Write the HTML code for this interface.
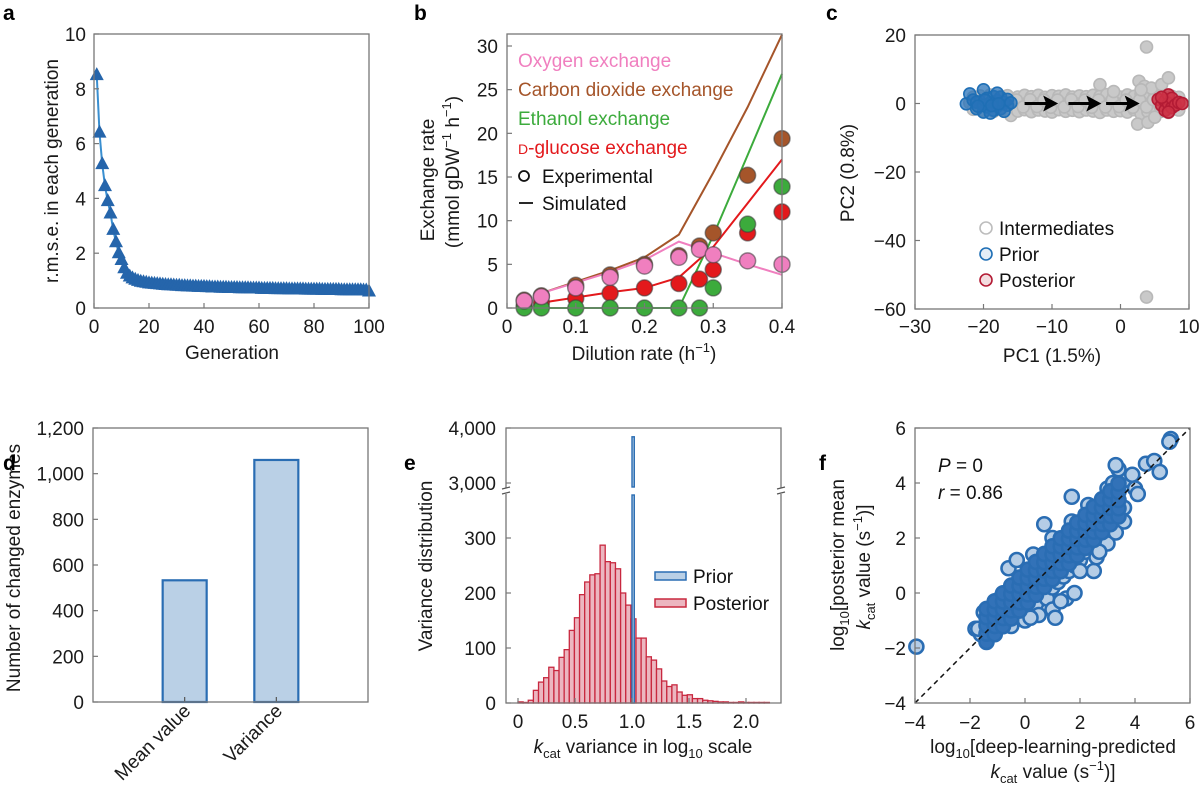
<!DOCTYPE html>
<html><head><meta charset="utf-8"><style>
body{margin:0;background:#fff}
svg{display:block;font-family:"Liberation Sans",Arial,sans-serif}
</style></head><body>
<svg id="fig" width="1200" height="791" viewBox="0 0 1200 791" xmlns="http://www.w3.org/2000/svg">
<g id="root"></g>
</svg>
<script>
// ---------- Panel a data ----------
const aRmse = [8.5,6.4,5.25,4.45,3.9,3.45,2.85,2.4,2.0,1.75,1.45,1.25,1.15,1.08,1.03,0.99,0.96,0.94,0.92,0.9,
0.89,0.88,0.87,0.86,0.85,0.84,0.83,0.83,0.82,0.81,0.81,0.8,0.8,0.79,0.79,0.78,0.78,0.77,0.77,0.77,
0.76,0.76,0.75,0.75,0.75,0.74,0.74,0.74,0.73,0.73,0.73,0.73,0.72,0.72,0.72,0.72,0.71,0.71,0.71,0.71,
0.70,0.70,0.70,0.70,0.70,0.69,0.69,0.69,0.69,0.69,0.68,0.68,0.68,0.68,0.68,0.68,0.67,0.67,0.67,0.67,
0.67,0.67,0.66,0.66,0.66,0.66,0.66,0.66,0.66,0.65,0.65,0.65,0.65,0.65,0.65,0.65,0.65,0.64,0.64,0.6];
const aXTicks = [0,20,40,60,80,100];
const aYTicks = [0,2,4,6,8,10];
// ---------- Panel b data ----------
const bExpX = [0.025,0.05,0.1,0.15,0.2,0.25,0.28,0.3,0.35,0.4];
const bExpCO2 = [0.9,1.4,2.6,3.8,5.0,6.0,7.1,8.6,15.2,19.4];
const bExpRed = [0.3,0.6,1.1,1.7,2.3,2.8,3.3,4.4,8.6,11.0];
const bExpEth = [0,0,0,0,0,0,0,2.3,9.6,13.9];
const bExpO2 = [0.8,1.3,2.3,3.5,4.8,5.8,6.7,6.1,5.4,5.0];
const bSimX = [0.05,0.1,0.15,0.2,0.25,0.3,0.35,0.4];
const bSimCO2 = [1.7,3.0,4.3,5.8,8.4,15.5,23.0,31.3];
const bSimO2 = [1.7,2.9,4.1,5.5,7.6,6.3,5.0,3.8];
const bSimEth = [0,0,0,0,0,8.3,17.5,26.8];
const bSimGlc = [0.6,1.2,1.8,2.3,3.5,7.0,12.0,17.0];
const bXTicks = [0,0.1,0.2,0.3,0.4];
const bXLabels = ["0","0.1","0.2","0.3","0.4"];
const bYTicks = [0,5,10,15,20,25,30];
// ---------- Panel c data ----------
const cGray = [-21.5,1.8,-20.5,2.2,-19,2.5,-17.5,2,-16.5,2.3,-15,1.9,-14,2.4,-13,2.0,-12,2.4,-11,1.8,-10,2.3,-9,2.1,-8,2.5,-7,1.9,-6,2.2,-5,2.0,-4,2.4,-3,2.1,-2,2.6,-1,2.2,0,1.9,1,2.5,2,2.1,3,2.8,4,2.3,5,2.0,6,2.4,7.5,2.1,8.5,1.8,
-22,0.2,-21,-0.3,-20,0.4,-18.5,-0.2,-17,0.3,-16,-0.4,-15.5,0.1,-14.5,-0.2,-13.5,0.3,-12.5,-0.1,-11.5,0.2,-10.5,-0.3,-9.5,0.1,-8.5,-0.2,-7.5,0.3,-6.5,-0.1,-5.5,0.2,-4.5,-0.3,-3.5,0.1,-2.5,-0.2,-1.5,0.3,-0.5,-0.1,0.5,0.2,1.5,-0.3,2.5,0.1,3.5,-0.2,4.5,0.3,5.5,-0.1,6.5,0.2,8,-0.2,9,0.1,
-21.5,-1.7,-20,-2.1,-18.5,-2.3,-17,-1.9,-16,-3.5,-15,-2.2,-14,-1.8,-13,-2.4,-12,-1.9,-11,-2.2,-10,-2.5,-9,-1.8,-8,-2.3,-7,-2.0,-6,-2.4,-5,-1.9,-4,-2.2,-3,-2.6,-2,-1.9,-1,-2.3,0,-2.1,1,-2.5,2,-1.8,3,-3.0,4,-2.4,5,-2.0,6,-2.3,7,-2.6,8.5,-1.9,
-15.2,1.0,-14.2,-1.0,-13.2,1.1,-12.2,-0.9,-11.2,1.0,-10.2,-1.1,-9.2,1.0,-8.2,-1.0,-7.2,1.1,-6.2,-0.9,-5.2,1.0,-4.2,-1.1,-3.2,1.0,-2.2,-1.0,-1.2,1.1,-0.2,-0.9,0.8,1.0,1.8,-1.1,2.8,1.0,3.8,-1.0,4.8,1.1,5.8,-0.9,
3.8,16.5,3.8,-56.5,-3,5.5,2.7,6.5,3.5,5.0,4.5,4.5,6,5.5,7,7.5,2.5,-6,4,-5.5,-1,3.5,3.0,4.0,5.0,-4.0];
const cPrior = [-22.5,-0.1,-22,2.8,-21.5,1.0,-21,-1.5,-20.5,0.5,-20,4.0,-20,-2.5,-19.5,1.5,-19.5,-1.0,-19,0.2,-18.5,2.0,-18.5,-2.0,-18,0.8,-18,-0.8,-17.5,1.8,-17.5,-1.5,-17,0.3,-16.5,-0.5,-16.5,1.2,-16,0.2,-21,0.4,-20,-0.5,-19,-2.8,-18,3.0,-17,-2.3,-19.8,1.0,-18.8,-0.6,-17.8,-0.1,-20.8,-0.8];
const cPost = [5.5,1.2,6,-0.5,6.5,0.8,6.5,-2,7,2.5,7,0,7.5,-1.2,7.5,1.5,8,-0.5,8.5,0.3,9,0,6,1.8,7,-2.5];
const cArrows = [-14,-9.1,-7.6,-2.8,-2.1,2.8];
const cXTicks = [-30,-20,-10,0,10];
const cYTicks = [-60,-40,-20,0,20];
// ---------- Panel d data ----------
const dCats = ["Mean value","Variance"];
const dVals = [533,1060];
const dYTicks = [0,200,400,600,800,1000,1200];
const dYLabels = ["0","200","400","600","800","1,000","1,200"];
// ---------- Panel e data ----------
const eBinStart = 0.0;
const eBinW = 0.045;
const ePosterior = [2,1,5,23,38,46,65,59,83,97,132,155,197,220,233,235,287,257,255,244,200,178,153,118,118,84,78,62,40,30,33,20,14,15,8,8,5,4,3,2,2,1,1,2,1,1,1,1,1];
const ePriorX = [1.0];
const ePriorVal = [3840];
const eXTicks = [0,0.5,1.0,1.5,2.0];
const eXLabels = ["0","0.5","1.0","1.5","2.0"];
const eYTicksLow = [0,100,200,300];
const eYTicksHigh = [3000,4000];
const eYLabelsHigh = ["3,000","4,000"];
// ---------- Panel f data ----------
const fPts = [-1.8,-1.3,-1.6,-1.5,-1.4,-1.2,-1.2,-0.9,-1.3,-1.4,-1.0,-1.1,-1.0,-0.6,-0.8,-0.9,-0.8,-0.4,-0.6,-0.7,-0.6,-0.2,-0.4,-0.5,-0.4,0.0,-0.2,-0.3,-0.2,0.3,0,-0.6,0,0.1,0,0.6,0.2,-0.2,0.2,0.4,0.4,-0.4,0.4,0.2,0.4,0.8,0.6,0.0,0.6,0.6,0.6,1.1,0.8,-0.2,0.8,0.4,0.8,0.9,1.0,0.2,1.0,0.7,1.0,1.3,1.2,0.4,1.2,1.0,1.2,1.6,1.4,0.6,1.4,1.2,1.4,1.8,1.6,0.8,1.6,1.4,1.6,2.0,1.8,1.0,1.8,1.6,1.8,2.2,2.0,1.2,2.0,1.8,2.0,2.5,2.2,1.5,2.2,2.1,2.2,2.7,2.4,1.7,2.4,2.3,2.6,1.9,2.6,2.6,2.8,2.2,2.8,2.9,3.0,2.4,3.0,3.1,3.2,2.6,3.2,3.6,3.4,2.9,3.4,3.3,3.6,3.1,3.6,2.6,3.0,3.8,3.2,4.0,3.6,4.1,3.9,4.3,4.0,3.8,4.1,3.6,3.4,4.5,3.3,4.65,4.4,4.7,4.7,4.8,4.9,4.4,5.3,5.6,5.25,5.5,-3.95,-1.95,-1.5,-0.7,-1.7,-1.3,1.7,3.5,0.7,2.5,-0.6,0.9,1.0,-0.6,0.5,-0.8,1.5,-0.2,2.5,0.8,1.7,2.6,2.6,1.3,3.0,1.8,2.0,0.8,1.0,2.0,0.3,1.4,-0.3,1.2,2.3,3.2,0.0,-1.0,-0.5,-1.2,1.1,-0.9,1.8,0.0,0.2,-0.9,-0.9,-0.2,1.3,-0.3,2.7,1.5,3.3,2.2];
const fCore = [-1.4,-1.78,-1.4,-1.48,-1.4,-1.18,-1.4,-0.88,-1.4,-0.58,
-1.1,-1.5,-1.1,-1.2,-1.1,-0.9,-1.1,-0.6,-1.1,-0.3,
-0.8,-1.21,-0.8,-0.91,-0.8,-0.61,-0.8,-0.31,-0.8,-0.01,
-0.5,-0.93,-0.5,-0.63,-0.5,-0.33,-0.5,-0.03,-0.5,0.27,
-0.2,-0.64,-0.2,-0.34,-0.2,-0.04,-0.2,0.26,-0.2,0.56,
0.1,-0.35,0.1,-0.05,0.1,0.25,0.1,0.55,0.1,0.85,
0.4,-0.07,0.4,0.23,0.4,0.53,0.4,0.83,0.4,1.13,
0.7,0.22,0.7,0.52,0.7,0.82,0.7,1.12,0.7,1.42,
1.0,0.5,1.0,0.8,1.0,1.1,1.0,1.4,1.0,1.7,
1.3,0.79,1.3,1.09,1.3,1.39,1.3,1.69,1.3,1.99,
1.6,1.07,1.6,1.37,1.6,1.67,1.6,1.97,1.6,2.27,
1.9,1.36,1.9,1.66,1.9,1.96,1.9,2.26,1.9,2.56,
2.2,1.64,2.2,1.94,2.2,2.24,2.2,2.54,2.2,2.84,
2.5,1.93,2.5,2.23,2.5,2.53,2.5,2.83,2.5,3.13,
2.8,2.21,2.8,2.51,2.8,2.81,2.8,3.11,2.8,3.41,
3.1,2.5,3.1,2.8,3.1,3.1,3.1,3.4,3.1,3.7,
3.4,2.78,3.4,3.08,3.4,3.38,3.4,3.68,3.4,3.98];
const fTicks = [-4,-2,0,2,4,6];
const fTickLabels = ["\u22124","\u22122","0","2","4","6"];

// ---------- helpers ----------
const NS = "http://www.w3.org/2000/svg";
const root = document.getElementById('root');
function el(tag, attrs, parent, txt){
  const e = document.createElementNS(NS, tag);
  for (const k in attrs) e.setAttribute(k, attrs[k]);
  if (txt !== undefined) e.textContent = txt;
  (parent || root).appendChild(e);
  return e;
}
function lin(d0,d1,r0,r1){ return v => r0 + (v-d0)/(d1-d0)*(r1-r0); }
function box(g,x0,y0,x1,y1){
  const r = el('rect',{x:x0,y:y0,width:x1-x0,height:y1-y0,fill:'none',stroke:'#777','stroke-width':1.3},g);
  
  
}
function xTicks(g,ticks,labels,sx,yb,ly){
  ticks.forEach((t,i)=>{
    const l = el('line',{x1:sx(t),x2:sx(t),y1:yb,y2:yb-5,stroke:'#777','stroke-width':1.2},g);
    
    
    const tx = el('text',{x:sx(t),y:ly,'font-size':19,'text-anchor':'middle',fill:'#1a1a1a'},g,labels?labels[i]:String(t).replace('-','\u2212'));
    
    
  });
}
function yTicks(g,ticks,labels,sy,xl,lx){
  ticks.forEach((t,i)=>{
    const l = el('line',{x1:xl,x2:xl+5,y1:sy(t),y2:sy(t),stroke:'#777','stroke-width':1.2},g);
    
    
    const tx = el('text',{x:lx,y:sy(t)+7,'font-size':19,'text-anchor':'end',fill:'#1a1a1a'},g,labels?labels[i]:String(t).replace('-','\u2212'));
    
    
  });
}
function panelLetter(ch,x,y){
  const t = el('text',{x:x,y:y,'font-size':21,'font-weight':'bold',fill:'#000'},root,ch);
  
  
}
function title(g,txt,x,y,rot,name){
  const t = el('text',{x:x,y:y,'font-size':19,'text-anchor':'middle',fill:'#1a1a1a',transform:rot?`rotate(-90 ${x} ${y})`:''},g);
  t.innerHTML = txt;
  
  
  return t;
}

// ================= Panel a =================
(function(){
  const g = el('g',{});  
  const sx = lin(0,100,94,369), sy = lin(0,10,308,34);
  panelLetter('a',3,20);
  const pts = aRmse.map((v,i)=>sx(i+1)+','+sy(v)).join(' ');
  const pl = el('polyline',{points:pts,fill:'none',stroke:'#3a8fd0','stroke-width':2},g);
  
  
  aRmse.forEach((v,i)=>{
    const x=sx(i+1), y=sy(v);
    const p = el('polygon',{points:`${x},${y-8} ${x-7},${y+5} ${x+7},${y+5}`,fill:'#2565ab'},g);
    
    
  });
  box(g,94,34,369,308);
  xTicks(g,aXTicks,null,sx,308,333);
  yTicks(g,aYTicks,null,sy,94,86);
  title(g,'Generation',232,359,false,'x-axis-title');
  title(g,'r.m.s.e. in each generation',58,171,true,'y-axis-title');
})();

// ================= Panel b =================
(function(){
  const g = el('g',{});  
  const sx = lin(0,0.4,507,782), sy = lin(0,30,308,46);
  panelLetter('b',414,20);
  const cols = {co2:'#a5552a',o2:'#f07fbf',eth:'#3cab3c',glc:'#e3191c'};
  function line(arr,c,name){
    const l = el('polyline',{points:bSimX.map((x,i)=>sx(x)+','+sy(arr[i])).join(' '),fill:'none',stroke:c,'stroke-width':2},g);
    
    
  }
  line(bSimCO2,cols.co2,'sim-co2-line');
  line(bSimEth,cols.eth,'sim-ethanol-line');
  line(bSimGlc,cols.glc,'sim-glucose-line');
  line(bSimO2,cols.o2,'sim-oxygen-line');
  function dots(arr,c,name){
    arr.forEach((v,i)=>{
      const d = el('circle',{cx:sx(bExpX[i]),cy:sy(v),r:8,fill:c,stroke:'rgba(60,60,60,0.55)','stroke-width':1.5},g);
      
      
    });
  }
  dots(bExpCO2,cols.co2,'exp-co2-point');
  dots(bExpRed,cols.glc,'exp-glucose-point');
  dots(bExpEth,cols.eth,'exp-ethanol-point');
  dots(bExpO2,cols.o2,'exp-oxygen-point');
  box(g,507,34,782,308);
  xTicks(g,bXTicks,bXLabels,sx,308,333);
  yTicks(g,bYTicks,null,sy,507,498);
  const leg=[['Oxygen exchange',cols.o2,67],['Carbon dioxide exchange',cols.co2,96],['Ethanol exchange',cols.eth,125]];
  leg.forEach(l=>{
    const t=el('text',{x:518,y:l[2],'font-size':19,fill:l[1]},g,l[0]);
    
    
  });
  const t4=el('text',{x:518,y:154,'font-size':19,fill:cols.glc},g);
  t4.innerHTML='<tspan font-size="14">D</tspan>-glucose exchange';
  
  
  const c5=el('circle',{cx:524,cy:176,r:5,fill:'none',stroke:'#111','stroke-width':1.8},g);
  
  
  const t5=el('text',{x:542,y:183,'font-size':19,fill:'#111'},g,'Experimental');
  
  
  const l6=el('line',{x1:519,x2:533,y1:203,y2:203,stroke:'#111','stroke-width':1.8},g);
  
  
  const t6=el('text',{x:542,y:210,'font-size':19,fill:'#111'},g,'Simulated');
  
  
  title(g,'Dilution rate (h<tspan dy="-8" font-size="13">\u22121</tspan><tspan dy="8">)</tspan>',644,360,false,'x-axis-title');
  title(g,'Exchange rate',434,180,true,'y-axis-title');
  title(g,'(mmol gDW<tspan dy="-8" font-size="13">\u22121</tspan><tspan dy="8"> h</tspan><tspan dy="-8" font-size="13">\u22121</tspan><tspan dy="8">)</tspan>',459,172,true,'y-axis-title-units');
})();

// ================= Panel c =================
(function(){
  const g = el('g',{});  
  const sx = lin(-30,10,915,1189), sy = lin(-60,20,309,35);
  panelLetter('c',826,20);
  function pts(arr,fill,stroke,name){
    for(let i=0;i<arr.length;i+=2){
      const c=el('circle',{cx:sx(arr[i]),cy:sy(arr[i+1]),r:6,fill:fill,stroke:stroke,'stroke-width':1.6},g);
      
      
    }
  }
  pts(cGray,'#c9c9c9','#b8b8b8','intermediate-point');
  pts(cPrior,'rgba(40,115,185,0.75)','#1f6fb5','prior-point');
  pts(cPost,'rgba(205,50,70,0.85)','#b31b34','posterior-point');
  for(let i=0;i<cArrows.length;i+=2){
    const x0=sx(cArrows[i]), x1=sx(cArrows[i+1]), y=sy(0);
    const l=el('line',{x1:x0,x2:x1-10,y1:y,y2:y,stroke:'#000','stroke-width':3},g);
    
    
    const h=el('polygon',{points:`${x1},${y} ${x1-15},${y-8} ${x1-12},${y} ${x1-15},${y+8}`,fill:'#000'},g);
    
    
  }
  box(g,915,35,1189,309);
  xTicks(g,cXTicks,null,sx,309,333);
  yTicks(g,cYTicks,null,sy,915,906);
  const leg=[['Intermediates','#fff','#bdbdbd',228],['Prior','#e3edf7','#1f6fb5',254],['Posterior','#f3dde0','#b31b34',280]];
  leg.forEach(l=>{
    const c=el('circle',{cx:986,cy:l[3],r:6,fill:l[1],stroke:l[2],'stroke-width':1.6},g);
    
    
    const t=el('text',{x:999,y:l[3]+7,'font-size':19,fill:'#111'},g,l[0]);
    
    
  });
  title(g,'PC1 (1.5%)',1052,362,false,'x-axis-title');
  title(g,'PC2 (0.8%)',854,173,true,'y-axis-title');
})();

// ================= Panel d =================
(function(){
  const g = el('g',{});  
  const sx = lin(0,3,93,368), sy = lin(0,1200,702,428);
  panelLetter('d',3,470);
  dVals.forEach((v,i)=>{
    const cx=sx(i+1);
    const r=el('rect',{x:cx-22,y:sy(v),width:44,height:sy(0)-sy(v),fill:'#bad0e6',stroke:'#2a6db3','stroke-width':2.2},g);
    
    
    const tk=el('line',{x1:cx,x2:cx,y1:702,y2:697,stroke:'#555','stroke-width':1.2},g);
    
    
    const t=el('text',{x:cx+7,y:712,'font-size':19,'text-anchor':'end',fill:'#1a1a1a',transform:`rotate(-45 ${cx+7} 712)`},g,dCats[i]);
    
    
  });
  box(g,93,428,368,702);
  yTicks(g,dYTicks,dYLabels,sy,93,84);
  title(g,'Number of changed enzymes',20,568,true,'y-axis-title');
})();

// ================= Panel e =================
(function(){
  const g = el('g',{});  
  const sx = lin(0,2.0,518,746);
  const syL = lin(0,300,703,538), syH = lin(3000,4000,483,428);
  panelLetter('e',404,470);
  ePosterior.forEach((v,i)=>{
    if(v<=0) return;
    const x0=sx(eBinStart+i*eBinW), x1=sx(eBinStart+(i+1)*eBinW);
    const r=el('rect',{x:x0,y:syL(v),width:x1-x0,height:syL(0)-syL(v),fill:'#ecb6c0',stroke:'#c8283f','stroke-width':1.3},g);
    
    
  });
  ePriorX.forEach((x,i)=>{
    const x0=sx(x), w=sx(x+0.02)-x0;
    const r1=el('rect',{x:x0,y:495,width:w,height:703-495,fill:'#bad0e6',stroke:'#2a6db3','stroke-width':1.4},g);
    
    
    const r2=el('rect',{x:x0,y:syH(ePriorVal[i]),width:w,height:487-syH(ePriorVal[i]),fill:'#bad0e6',stroke:'#2a6db3','stroke-width':1.4},g);
    
    
  });
  const fr=el('path',{d:'M506,488 V428 H781 V488 M506,494 V703 H781 V494',fill:'none',stroke:'#777','stroke-width':1.3},g);
  
  
  [506,781].forEach(x=>{
    const b=el('path',{d:`M${x-4},489 L${x+4},487 M${x-4},494 L${x+4},492`,stroke:'#555','stroke-width':1.2,fill:'none'},g);
    
    
  });
  xTicks(g,eXTicks,eXLabels,sx,703,728);
  yTicks(g,eYTicksLow,null,syL,506,496);
  yTicks(g,eYTicksHigh,eYLabelsHigh,syH,506,496);
  const lp=el('rect',{x:655,y:572,width:31,height:8,fill:'#bad0e6',stroke:'#2a6db3','stroke-width':1.5},g);
  
  
  const tp=el('text',{x:693,y:583,'font-size':19,fill:'#111'},g,'Prior');
  
  
  const lq=el('rect',{x:655,y:599,width:31,height:8,fill:'#ecb6c0',stroke:'#c8283f','stroke-width':1.5},g);
  
  
  const tq=el('text',{x:693,y:610,'font-size':19,fill:'#111'},g,'Posterior');
  
  
  title(g,'<tspan font-style="italic">k</tspan><tspan font-size="13" dy="5">cat</tspan><tspan dy="-5"> variance in log</tspan><tspan font-size="13" dy="5">10</tspan><tspan dy="-5"> scale</tspan>',643,753,false,'x-axis-title');
  title(g,'Variance distribution',432,566,true,'y-axis-title');
})();

// ================= Panel f =================
(function(){
  const g = el('g',{});  
  const sx = lin(-4,6,915,1190), sy = lin(-4,6,703,428);
  panelLetter('f',819,470);
  for(let i=0;i<fPts.length;i+=2){
    const c=el('circle',{cx:sx(fPts[i]),cy:sy(fPts[i+1]),r:7,fill:'#b5cde6',stroke:'#2a6db3','stroke-width':2.6},g);
    
    
  }
  for(let i=0;i<fCore.length;i+=2){
    const c=el('circle',{cx:sx(fCore[i]),cy:sy(fCore[i+1]),r:7,fill:'#3272b8',stroke:'#2a6db3','stroke-width':2.6},g);
    
    
  }
  const d=el('line',{x1:sx(-4),y1:sy(-4),x2:sx(6),y2:sy(6),stroke:'#111','stroke-width':1.5,'stroke-dasharray':'5,4'},g);
  
  
  box(g,915,428,1190,703);
  xTicks(g,fTicks,fTickLabels,sx,703,729);
  yTicks(g,fTicks,fTickLabels,sy,915,906);
  const p=el('text',{x:938,y:472,'font-size':19,fill:'#111'},g);
  p.innerHTML='<tspan font-style="italic">P</tspan> = 0';
  
  
  const r=el('text',{x:938,y:499,'font-size':19,fill:'#111'},g);
  r.innerHTML='<tspan font-style="italic">r</tspan> = 0.86';
  
  
  title(g,'log<tspan font-size="13" dy="5">10</tspan><tspan dy="-5">[deep-learning-predicted</tspan>',1053,753,false,'x-axis-title');
  title(g,'<tspan font-style="italic">k</tspan><tspan font-size="13" dy="5">cat</tspan><tspan dy="-5"> value (s</tspan><tspan dy="-8" font-size="13">\u22121</tspan><tspan dy="8">)]</tspan>',1053,778,false,'x-axis-title-2');
  title(g,'log<tspan font-size="13" dy="5">10</tspan><tspan dy="-5">[posterior mean</tspan>',844,565,true,'y-axis-title');
  title(g,'<tspan font-style="italic">k</tspan><tspan font-size="13" dy="5">cat</tspan><tspan dy="-5"> value (s</tspan><tspan dy="-8" font-size="13">\u22121</tspan><tspan dy="8">)]</tspan>',870,567,true,'y-axis-title-2');
})();
</script>
</body></html>
